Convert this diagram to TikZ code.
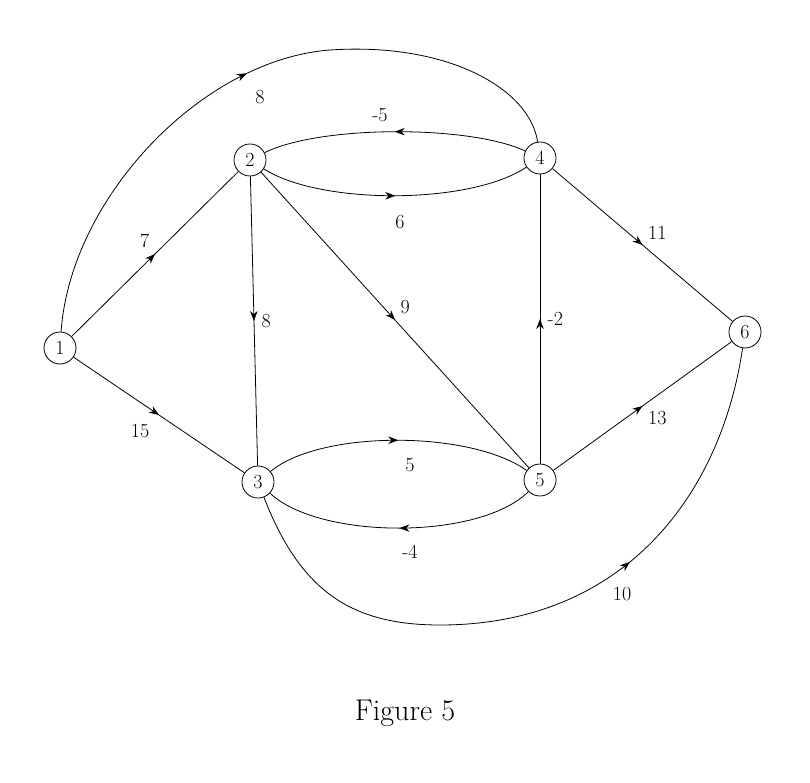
\documentclass[tikz,border=0pt]{standalone}
\usetikzlibrary{decorations.markings,arrows.meta}
\begin{document}
\begin{tikzpicture}[x=1pt,y=1pt,
  vtx/.style={circle,draw,thick,inner sep=1pt,minimum size=32pt,font=\fontsize{20}{24}\selectfont},
  edge/.style={thick,postaction={decorate},decoration={markings,mark=at position #1 with {\arrow{Stealth[length=10pt]}}}},
  edge/.default=0.5,
  lbl/.style={font=\fontsize{20}{24}\selectfont}]
\useasboundingbox (0,0) rectangle (810,-783);
\node[vtx] (n1) at (60,-348) {1};
\node[vtx] (n2) at (250,-160) {2};
\node[vtx] (n3) at (258,-482) {3};
\node[vtx] (n4) at (540,-158) {4};
\node[vtx] (n5) at (540,-480) {5};
\node[vtx] (n6) at (745,-332) {6};
\draw[edge] (n1) -- (n2) node[lbl,pos=0.5,above left=2pt] {7};
\draw[edge] (n1) -- (n3) node[lbl,pos=0.5,below left=6pt] {15};
\draw[edge=0.5] (n1) .. controls (70,-200) and (200,-60) .. (330,-50) .. controls (450,-42) and (530,-90) .. (n4) ;
\node[lbl] (l8a) at (260,-97) {8};
\draw[edge] (n4) .. controls (470,-125) and (320,-125) .. (n2);
\node[lbl] (lm5) at (380,-115) {-5};
\draw[edge] (n2) .. controls (320,-205) and (470,-205) .. (n4);
\node[lbl] (l6) at (400,-222) {6};
\draw[edge] (n2) -- (n3) node[lbl,pos=0.5,right=4pt] {8};
\draw[edge] (n2) -- (n5) node[lbl,pos=0.5,above right=2pt] {9};
\draw[edge] (n5) -- (n4) node[lbl,pos=0.5,right=4pt] {-2};
\draw[edge] (n4) -- (n6) node[lbl,pos=0.5,above right=2pt] {11};
\draw[edge] (n5) -- (n6) node[lbl,pos=0.5,below right=2pt] {13};
\draw[edge] (n3) .. controls (320,-430) and (470,-430) .. (n5);
\node[lbl] (l5) at (410,-465) {5};
\draw[edge] (n5) .. controls (480,-540) and (320,-540) .. (n3);
\node[lbl] (lm4) at (410,-552) {-4};
\draw[edge=0.64] (n3) .. controls (300,-590) and (350,-625) .. (440,-625) .. controls (620,-625) and (720,-500) .. (n6);
\node[lbl] (l10) at (622,-594) {10};
\node[font=\fontsize{30}{36}\selectfont] (cap) at (405,-713) {Figure 5};
\end{tikzpicture}
\end{document}
